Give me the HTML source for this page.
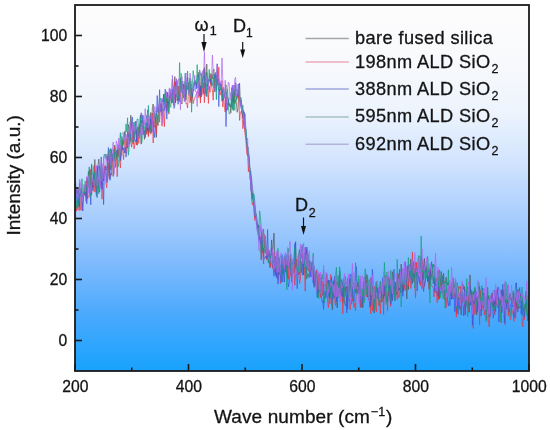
<!DOCTYPE html>
<html><head><meta charset="utf-8"><style>
html,body{margin:0;padding:0;background:#fff;width:550px;height:430px;overflow:hidden}
svg{display:block}
text{font-family:"Liberation Sans",Arial,sans-serif;fill:#141414;stroke:#141414;stroke-width:0.3px}
.tk{font-size:15.7px}
.lg{font-size:18.2px;letter-spacing:0.4px}
.sb{font-size:12.5px;letter-spacing:0}
</style></head><body>
<svg width="550" height="430" viewBox="0 0 550 430">
<defs>
<linearGradient id="bg" x1="0" y1="5" x2="0" y2="371" gradientUnits="userSpaceOnUse">
<stop offset="0" stop-color="#fdfdfd"/>
<stop offset="0.155" stop-color="#f8f9fc"/>
<stop offset="0.29" stop-color="#edf4fd"/>
<stop offset="0.429" stop-color="#d2e4fe"/>
<stop offset="0.566" stop-color="#abcffd"/>
<stop offset="0.702" stop-color="#80bbfd"/>
<stop offset="0.839" stop-color="#4daafd"/>
<stop offset="1" stop-color="#17a2fd"/>
</linearGradient>
<filter id="bl" x="-5%" y="-5%" width="110%" height="110%"><feGaussianBlur stdDeviation="0.5"/></filter>
<clipPath id="cp"><rect x="75" y="5" width="454" height="366"/></clipPath>
</defs>
<rect x="75" y="5" width="454" height="366" fill="url(#bg)"/>
<g clip-path="url(#cp)"><g fill="none" stroke-width="0.7" stroke-linejoin="round" filter="url(#bl)">
<path d="M74.0,199.0 74.8,201.7 75.6,196.1 76.4,189.9 77.2,193.2 78.0,187.7 78.8,196.6 79.6,207.4 80.4,190.3 81.2,188.5 82.0,197.9 82.8,196.1 83.6,193.2 84.4,194.9 85.2,190.7 86.0,196.6 86.8,177.6 87.6,185.0 88.4,171.4 89.2,176.2 90.0,170.4 90.8,184.1 91.6,174.0 92.4,187.0 93.2,185.2 94.0,181.3 94.8,159.5 95.6,176.6 96.4,180.2 97.2,180.8 98.0,165.2 98.8,159.1 99.6,168.6 100.4,169.3 101.2,185.3 102.0,167.7 102.8,173.9 103.6,181.0 104.4,166.6 105.2,169.6 106.0,170.4 106.8,168.7 107.6,155.9 108.4,166.4 109.2,176.7 110.0,149.3 110.8,169.8 111.6,161.9 112.4,153.8 113.2,176.4 114.0,164.0 114.8,145.1 115.6,155.4 116.4,158.6 117.2,150.5 118.0,157.1 118.8,149.3 119.6,154.8 120.4,160.6 121.2,140.5 122.0,147.3 122.8,140.2 123.6,144.4 124.4,131.5 125.2,135.8 126.0,136.6 126.8,146.9 127.6,148.0 128.4,124.7 129.2,128.3 130.0,140.2 130.8,115.3 131.6,128.7 132.4,131.8 133.2,143.8 134.0,138.5 134.8,129.1 135.6,128.5 136.4,129.4 137.2,145.2 138.0,127.4 138.8,128.3 139.6,134.0 140.4,129.6 141.2,128.7 142.0,120.2 142.8,129.9 143.6,125.6 144.4,139.4 145.2,134.2 146.0,127.5 146.8,133.2 147.6,123.5 148.4,135.4 149.2,125.3 150.0,130.0 150.8,112.5 151.6,132.4 152.4,107.8 153.2,104.0 154.0,119.0 154.8,113.1 155.6,120.8 156.4,137.3 157.2,107.4 158.0,107.0 158.8,112.2 159.6,112.6 160.4,105.0 161.2,103.9 162.0,111.3 162.8,108.9 163.6,94.1 164.4,101.9 165.2,102.1 166.0,91.5 166.8,102.9 167.6,92.3 168.4,108.3 169.2,100.8 170.0,99.4 170.8,92.8 171.6,96.6 172.4,79.2 173.2,86.5 174.0,99.5 174.8,76.6 175.6,102.9 176.4,79.0 177.2,101.0 178.0,86.1 178.8,100.1 179.6,93.8 180.4,78.2 181.2,102.8 182.0,104.0 182.8,90.3 183.6,88.2 184.4,89.1 185.2,81.6 186.0,100.2 186.8,85.2 187.6,89.5 188.4,82.7 189.2,84.1 190.0,78.0 190.8,100.7 191.6,87.9 192.4,97.8 193.2,89.0 194.0,82.0 194.8,84.7 195.6,82.0 196.4,86.5 197.2,82.5 198.0,82.6 198.8,72.2 199.6,76.8 200.4,98.3 201.2,76.8 202.0,72.8 202.8,84.7 203.6,93.7 204.4,67.4 205.2,87.2 206.0,74.3 206.8,64.2 207.6,86.6 208.4,79.8 209.2,80.6 210.0,73.2 210.8,84.1 211.6,75.1 212.4,78.7 213.2,70.0 214.0,69.1 214.8,92.0 215.6,75.4 216.4,83.2 217.2,81.4 218.0,78.9 218.8,79.4 219.6,90.8 220.4,83.6 221.2,86.1 222.0,88.8 222.8,100.3 223.6,97.6 224.4,96.8 225.2,90.2 226.0,84.8 226.8,107.7 227.6,109.7 228.4,100.3 229.2,105.7 230.0,107.0 230.8,106.7 231.6,106.7 232.4,93.5 233.2,110.5 234.0,85.1 234.8,103.6 235.6,99.7 236.4,103.0 237.2,112.3 238.0,109.0 238.8,85.6 239.6,83.2 240.4,105.6 241.2,100.1 242.0,109.4 242.8,118.1 243.6,110.8 244.4,113.7 245.2,131.0 246.0,136.7 246.8,142.1 247.6,150.5 248.4,153.1 249.2,157.2 250.0,171.2 250.8,174.7 251.6,178.6 252.4,195.1 253.2,198.2 254.0,206.3 254.8,205.3 255.6,212.7 256.4,216.7 257.2,222.4 258.0,230.7 258.8,225.6 259.6,238.8 260.4,241.6 261.2,259.7 262.0,231.1 262.8,253.0 263.6,245.5 264.4,247.5 265.2,236.0 266.0,246.2 266.8,258.4 267.6,252.3 268.4,255.1 269.2,253.1 270.0,267.4 270.8,258.1 271.6,239.9 272.4,254.8 273.2,244.4 274.0,233.2 274.8,258.1 275.6,275.3 276.4,264.1 277.2,253.5 278.0,256.0 278.8,275.1 279.6,266.7 280.4,266.1 281.2,265.6 282.0,266.8 282.8,274.1 283.6,272.3 284.4,269.6 285.2,258.6 286.0,272.3 286.8,261.4 287.6,277.2 288.4,255.7 289.2,265.7 290.0,266.6 290.8,254.6 291.6,281.8 292.4,279.2 293.2,261.7 294.0,272.6 294.8,268.9 295.6,241.7 296.4,267.3 297.2,264.0 298.0,264.9 298.8,254.0 299.6,249.6 300.4,261.2 301.2,273.0 302.0,264.9 302.8,261.4 303.6,274.9 304.4,257.0 305.2,259.3 306.0,247.3 306.8,278.7 307.6,274.1 308.4,274.5 309.2,277.5 310.0,269.0 310.8,270.8 311.6,267.4 312.4,268.7 313.2,272.4 314.0,287.3 314.8,285.9 315.6,276.7 316.4,270.1 317.2,275.1 318.0,297.0 318.8,288.9 319.6,286.7 320.4,283.9 321.2,277.2 322.0,286.7 322.8,295.3 323.6,284.0 324.4,285.6 325.2,285.8 326.0,288.9 326.8,273.7 327.6,286.1 328.4,280.6 329.2,296.4 330.0,281.6 330.8,293.9 331.6,302.5 332.4,309.9 333.2,283.6 334.0,290.9 334.8,289.3 335.6,280.6 336.4,293.8 337.2,307.9 338.0,287.6 338.8,288.3 339.6,280.9 340.4,293.3 341.2,279.4 342.0,280.8 342.8,302.4 343.6,282.9 344.4,300.9 345.2,305.1 346.0,305.8 346.8,296.4 347.6,308.9 348.4,289.4 349.2,285.8 350.0,278.8 350.8,291.3 351.6,304.1 352.4,299.3 353.2,282.1 354.0,282.8 354.8,285.9 355.6,292.9 356.4,288.4 357.2,292.0 358.0,292.7 358.8,287.5 359.6,290.0 360.4,292.4 361.2,290.0 362.0,295.5 362.8,307.9 363.6,296.6 364.4,292.0 365.2,276.5 366.0,295.3 366.8,274.5 367.6,279.5 368.4,300.1 369.2,298.9 370.0,307.5 370.8,277.6 371.6,289.6 372.4,286.7 373.2,298.5 374.0,313.0 374.8,294.5 375.6,285.5 376.4,281.8 377.2,291.8 378.0,290.6 378.8,293.3 379.6,293.1 380.4,281.6 381.2,301.8 382.0,301.3 382.8,301.4 383.6,287.3 384.4,295.9 385.2,289.7 386.0,287.0 386.8,287.0 387.6,278.0 388.4,276.3 389.2,296.0 390.0,286.8 390.8,290.0 391.6,296.7 392.4,271.7 393.2,279.8 394.0,288.1 394.8,289.6 395.6,282.3 396.4,294.6 397.2,286.7 398.0,273.2 398.8,275.0 399.6,289.9 400.4,286.1 401.2,264.1 402.0,292.6 402.8,285.2 403.6,291.2 404.4,274.9 405.2,275.0 406.0,266.8 406.8,299.0 407.6,274.1 408.4,289.6 409.2,269.1 410.0,276.0 410.8,259.1 411.6,270.3 412.4,282.2 413.2,261.6 414.0,282.2 414.8,275.1 415.6,262.3 416.4,266.8 417.2,269.8 418.0,270.3 418.8,265.7 419.6,262.9 420.4,267.4 421.2,260.9 422.0,259.0 422.8,270.7 423.6,279.6 424.4,258.4 425.2,272.7 426.0,267.3 426.8,264.9 427.6,281.9 428.4,270.0 429.2,288.7 430.0,268.7 430.8,279.7 431.6,274.7 432.4,270.6 433.2,283.6 434.0,277.8 434.8,285.5 435.6,280.5 436.4,278.0 437.2,281.7 438.0,284.0 438.8,299.2 439.6,277.1 440.4,285.8 441.2,271.5 442.0,293.7 442.8,279.0 443.6,273.3 444.4,289.5 445.2,300.4 446.0,277.2 446.8,281.6 447.6,285.1 448.4,282.1 449.2,296.1 450.0,285.9 450.8,287.1 451.6,299.3 452.4,287.7 453.2,298.9 454.0,286.7 454.8,285.0 455.6,279.6 456.4,313.1 457.2,293.7 458.0,299.0 458.8,296.8 459.6,298.7 460.4,297.9 461.2,314.9 462.0,288.6 462.8,284.1 463.6,289.2 464.4,286.6 465.2,305.5 466.0,306.4 466.8,290.6 467.6,287.0 468.4,296.6 469.2,312.5 470.0,274.9 470.8,305.3 471.6,291.1 472.4,310.4 473.2,291.6 474.0,299.0 474.8,288.3 475.6,293.3 476.4,314.8 477.2,310.0 478.0,299.2 478.8,295.3 479.6,286.3 480.4,299.9 481.2,303.1 482.0,302.5 482.8,302.4 483.6,293.0 484.4,297.4 485.2,302.6 486.0,314.5 486.8,319.6 487.6,301.5 488.4,295.7 489.2,301.9 490.0,297.0 490.8,295.7 491.6,301.7 492.4,292.8 493.2,307.5 494.0,301.1 494.8,304.3 495.6,300.4 496.4,295.5 497.2,293.5 498.0,299.9 498.8,297.1 499.6,304.1 500.4,302.0 501.2,289.7 502.0,302.6 502.8,289.9 503.6,296.5 504.4,299.4 505.2,283.3 506.0,302.8 506.8,303.4 507.6,300.6 508.4,298.3 509.2,298.9 510.0,293.6 510.8,300.2 511.6,297.8 512.4,303.8 513.2,292.3 514.0,305.4 514.8,304.7 515.6,297.7 516.4,299.8 517.2,308.9 518.0,289.2 518.8,308.5 519.6,306.7 520.4,307.2 521.2,308.3 522.0,299.1 522.8,302.7 523.6,310.7 524.4,308.9 525.2,306.9 526.0,291.4 526.8,309.8 527.6,315.5 528.4,314.1 529.2,307.1 530.0,291.0" stroke="#555555" /><path d="M74.0,198.6 74.8,195.9 75.6,205.0 76.4,211.2 77.2,204.4 78.0,210.1 78.8,201.2 79.6,210.5 80.4,210.0 81.2,197.2 82.0,210.5 82.8,198.4 83.6,197.0 84.4,187.3 85.2,192.4 86.0,201.4 86.8,181.9 87.6,198.9 88.4,195.6 89.2,194.3 90.0,169.0 90.8,189.3 91.6,195.2 92.4,181.7 93.2,188.6 94.0,165.6 94.8,192.2 95.6,179.4 96.4,192.4 97.2,167.2 98.0,189.2 98.8,180.1 99.6,188.7 100.4,172.3 101.2,174.2 102.0,199.2 102.8,170.7 103.6,176.9 104.4,173.4 105.2,165.4 106.0,184.1 106.8,187.7 107.6,164.6 108.4,154.2 109.2,179.0 110.0,177.2 110.8,173.4 111.6,175.2 112.4,155.8 113.2,160.8 114.0,148.7 114.8,147.1 115.6,167.5 116.4,151.4 117.2,176.7 118.0,149.0 118.8,148.1 119.6,160.0 120.4,167.9 121.2,154.9 122.0,138.5 122.8,151.7 123.6,159.6 124.4,141.7 125.2,138.1 126.0,153.1 126.8,144.1 127.6,131.8 128.4,137.2 129.2,132.7 130.0,141.1 130.8,138.3 131.6,147.2 132.4,143.0 133.2,122.4 134.0,148.9 134.8,144.1 135.6,140.0 136.4,144.9 137.2,130.5 138.0,126.7 138.8,143.4 139.6,125.3 140.4,115.2 141.2,143.7 142.0,127.7 142.8,131.3 143.6,121.0 144.4,121.0 145.2,121.9 146.0,128.5 146.8,134.5 147.6,109.9 148.4,136.7 149.2,118.7 150.0,119.2 150.8,134.3 151.6,126.9 152.4,113.1 153.2,143.0 154.0,118.0 154.8,127.4 155.6,125.1 156.4,133.8 157.2,114.7 158.0,125.7 158.8,107.7 159.6,122.2 160.4,103.7 161.2,106.5 162.0,126.1 162.8,111.1 163.6,108.4 164.4,126.8 165.2,109.1 166.0,97.7 166.8,111.1 167.6,93.4 168.4,113.7 169.2,113.9 170.0,97.4 170.8,96.5 171.6,103.2 172.4,101.3 173.2,91.9 174.0,105.3 174.8,81.3 175.6,95.3 176.4,95.1 177.2,95.7 178.0,100.4 178.8,86.1 179.6,101.9 180.4,94.4 181.2,89.7 182.0,82.7 182.8,84.2 183.6,98.0 184.4,85.9 185.2,95.0 186.0,103.8 186.8,103.4 187.6,108.0 188.4,91.2 189.2,83.9 190.0,102.7 190.8,96.2 191.6,103.4 192.4,93.2 193.2,103.6 194.0,99.9 194.8,98.1 195.6,95.6 196.4,94.0 197.2,91.9 198.0,91.3 198.8,97.6 199.6,83.4 200.4,103.1 201.2,85.9 202.0,95.1 202.8,84.8 203.6,82.8 204.4,102.7 205.2,81.2 206.0,72.5 206.8,77.6 207.6,81.1 208.4,103.4 209.2,85.9 210.0,92.4 210.8,75.0 211.6,87.2 212.4,90.0 213.2,100.2 214.0,77.7 214.8,89.4 215.6,86.7 216.4,75.4 217.2,85.5 218.0,84.5 218.8,67.1 219.6,94.5 220.4,95.1 221.2,87.5 222.0,80.5 222.8,107.0 223.6,95.1 224.4,106.5 225.2,112.0 226.0,96.5 226.8,110.4 227.6,102.9 228.4,105.0 229.2,104.0 230.0,104.0 230.8,113.2 231.6,103.5 232.4,100.2 233.2,98.4 234.0,103.4 234.8,91.7 235.6,94.7 236.4,98.7 237.2,94.3 238.0,98.6 238.8,94.9 239.6,120.4 240.4,112.2 241.2,111.3 242.0,113.2 242.8,128.7 243.6,124.5 244.4,127.7 245.2,135.2 246.0,142.0 246.8,154.3 247.6,154.2 248.4,171.7 249.2,164.3 250.0,179.5 250.8,178.5 251.6,199.7 252.4,205.0 253.2,202.2 254.0,212.9 254.8,220.4 255.6,214.4 256.4,224.0 257.2,223.8 258.0,234.4 258.8,235.7 259.6,236.5 260.4,236.4 261.2,242.0 262.0,240.9 262.8,253.8 263.6,264.0 264.4,234.3 265.2,252.0 266.0,250.6 266.8,260.1 267.6,248.4 268.4,257.0 269.2,250.3 270.0,267.3 270.8,263.2 271.6,262.2 272.4,268.3 273.2,263.9 274.0,252.5 274.8,272.3 275.6,269.9 276.4,266.3 277.2,277.0 278.0,279.5 278.8,259.1 279.6,262.3 280.4,283.6 281.2,282.9 282.0,263.9 282.8,260.3 283.6,265.6 284.4,267.2 285.2,257.7 286.0,272.0 286.8,260.0 287.6,260.4 288.4,279.4 289.2,264.8 290.0,270.1 290.8,276.1 291.6,277.6 292.4,267.0 293.2,270.3 294.0,262.2 294.8,285.2 295.6,275.1 296.4,259.1 297.2,268.6 298.0,274.6 298.8,272.0 299.6,283.7 300.4,279.1 301.2,261.5 302.0,265.1 302.8,253.9 303.6,267.4 304.4,267.3 305.2,291.2 306.0,268.6 306.8,249.7 307.6,263.4 308.4,271.3 309.2,259.8 310.0,264.2 310.8,269.6 311.6,276.8 312.4,273.1 313.2,267.9 314.0,284.8 314.8,274.6 315.6,276.7 316.4,270.6 317.2,277.7 318.0,292.4 318.8,273.8 319.6,289.5 320.4,297.5 321.2,287.8 322.0,293.5 322.8,281.4 323.6,303.3 324.4,301.6 325.2,294.2 326.0,276.1 326.8,282.6 327.6,301.0 328.4,307.7 329.2,295.1 330.0,303.8 330.8,274.5 331.6,291.1 332.4,292.9 333.2,296.8 334.0,279.4 334.8,301.8 335.6,305.4 336.4,283.3 337.2,281.6 338.0,297.1 338.8,286.6 339.6,272.9 340.4,301.7 341.2,296.0 342.0,290.4 342.8,313.9 343.6,296.3 344.4,288.4 345.2,296.3 346.0,286.1 346.8,288.5 347.6,298.8 348.4,290.2 349.2,291.0 350.0,310.0 350.8,302.6 351.6,302.0 352.4,299.5 353.2,299.0 354.0,307.6 354.8,302.8 355.6,311.0 356.4,285.6 357.2,291.8 358.0,281.6 358.8,291.1 359.6,299.0 360.4,307.6 361.2,288.8 362.0,295.0 362.8,291.9 363.6,288.6 364.4,284.8 365.2,296.2 366.0,280.3 366.8,297.0 367.6,296.4 368.4,290.5 369.2,287.5 370.0,284.3 370.8,313.8 371.6,284.9 372.4,310.9 373.2,302.1 374.0,293.4 374.8,286.1 375.6,305.9 376.4,311.9 377.2,287.9 378.0,293.5 378.8,305.6 379.6,299.0 380.4,313.9 381.2,290.7 382.0,300.6 382.8,284.4 383.6,314.4 384.4,288.7 385.2,275.0 386.0,293.4 386.8,292.8 387.6,310.9 388.4,290.3 389.2,292.8 390.0,297.8 390.8,306.4 391.6,291.1 392.4,300.7 393.2,295.6 394.0,287.8 394.8,290.8 395.6,290.0 396.4,281.1 397.2,299.7 398.0,275.6 398.8,297.9 399.6,295.2 400.4,285.1 401.2,278.3 402.0,282.5 402.8,288.0 403.6,289.7 404.4,284.9 405.2,290.5 406.0,275.9 406.8,282.3 407.6,265.6 408.4,286.2 409.2,280.3 410.0,274.8 410.8,288.6 411.6,283.9 412.4,252.0 413.2,277.3 414.0,263.4 414.8,285.7 415.6,298.1 416.4,262.2 417.2,275.6 418.0,272.5 418.8,277.7 419.6,280.2 420.4,285.7 421.2,265.2 422.0,288.8 422.8,260.3 423.6,278.1 424.4,286.6 425.2,283.1 426.0,268.7 426.8,271.4 427.6,274.0 428.4,278.2 429.2,289.5 430.0,268.1 430.8,284.4 431.6,286.2 432.4,286.5 433.2,286.5 434.0,296.8 434.8,288.4 435.6,292.6 436.4,290.9 437.2,302.8 438.0,270.4 438.8,299.9 439.6,286.9 440.4,287.6 441.2,282.3 442.0,275.1 442.8,289.3 443.6,287.4 444.4,298.5 445.2,281.2 446.0,307.8 446.8,297.8 447.6,293.6 448.4,289.9 449.2,289.6 450.0,287.0 450.8,292.7 451.6,298.1 452.4,296.9 453.2,277.6 454.0,297.0 454.8,291.8 455.6,301.6 456.4,317.2 457.2,306.2 458.0,298.0 458.8,286.4 459.6,288.4 460.4,286.3 461.2,308.2 462.0,295.0 462.8,302.7 463.6,296.7 464.4,303.4 465.2,315.4 466.0,296.8 466.8,300.2 467.6,296.3 468.4,311.6 469.2,294.8 470.0,294.1 470.8,292.1 471.6,292.1 472.4,309.3 473.2,328.4 474.0,296.6 474.8,314.4 475.6,308.3 476.4,296.4 477.2,304.1 478.0,304.8 478.8,300.9 479.6,324.7 480.4,290.3 481.2,310.8 482.0,310.3 482.8,302.0 483.6,308.5 484.4,314.9 485.2,308.3 486.0,310.6 486.8,313.0 487.6,288.4 488.4,319.9 489.2,327.0 490.0,315.3 490.8,315.5 491.6,293.6 492.4,305.1 493.2,298.8 494.0,300.7 494.8,314.7 495.6,298.8 496.4,304.8 497.2,288.8 498.0,304.6 498.8,306.8 499.6,299.7 500.4,299.5 501.2,323.0 502.0,295.1 502.8,296.5 503.6,298.7 504.4,316.8 505.2,324.9 506.0,309.0 506.8,299.5 507.6,302.2 508.4,315.7 509.2,298.1 510.0,319.5 510.8,319.3 511.6,307.4 512.4,312.8 513.2,313.9 514.0,321.3 514.8,298.0 515.6,318.3 516.4,304.4 517.2,301.1 518.0,309.1 518.8,306.4 519.6,299.6 520.4,294.3 521.2,300.3 522.0,322.1 522.8,326.7 523.6,314.9 524.4,319.7 525.2,304.3 526.0,308.3 526.8,311.5 527.6,299.3 528.4,300.1 529.2,309.9 530.0,306.1" stroke="#f0303c" /><path d="M74.0,201.0 74.8,195.2 75.6,183.3 76.4,195.9 77.2,204.2 78.0,190.0 78.8,205.5 79.6,193.1 80.4,195.8 81.2,191.7 82.0,197.6 82.8,211.0 83.6,196.5 84.4,194.4 85.2,186.4 86.0,184.6 86.8,203.9 87.6,180.1 88.4,181.3 89.2,187.9 90.0,184.2 90.8,204.8 91.6,165.1 92.4,188.9 93.2,191.2 94.0,173.9 94.8,177.4 95.6,186.3 96.4,196.3 97.2,172.5 98.0,165.8 98.8,188.0 99.6,192.1 100.4,185.6 101.2,156.9 102.0,189.1 102.8,173.4 103.6,204.6 104.4,172.5 105.2,168.2 106.0,166.3 106.8,182.4 107.6,180.9 108.4,147.5 109.2,157.1 110.0,180.3 110.8,174.9 111.6,149.6 112.4,160.6 113.2,158.4 114.0,157.3 114.8,152.6 115.6,152.9 116.4,150.4 117.2,156.2 118.0,144.7 118.8,148.3 119.6,148.5 120.4,160.4 121.2,150.9 122.0,145.5 122.8,150.2 123.6,147.9 124.4,152.9 125.2,146.6 126.0,157.1 126.8,151.9 127.6,138.3 128.4,133.9 129.2,144.4 130.0,140.0 130.8,133.4 131.6,120.6 132.4,117.2 133.2,136.6 134.0,140.2 134.8,140.3 135.6,121.3 136.4,142.0 137.2,127.6 138.0,135.7 138.8,135.8 139.6,124.6 140.4,126.3 141.2,112.8 142.0,123.0 142.8,114.8 143.6,134.5 144.4,130.5 145.2,137.6 146.0,129.4 146.8,122.4 147.6,130.7 148.4,123.4 149.2,131.8 150.0,128.6 150.8,116.3 151.6,124.6 152.4,124.4 153.2,120.6 154.0,130.8 154.8,137.6 155.6,117.0 156.4,114.9 157.2,95.6 158.0,112.4 158.8,107.4 159.6,89.7 160.4,110.2 161.2,112.1 162.0,99.4 162.8,101.8 163.6,95.7 164.4,110.5 165.2,89.1 166.0,99.2 166.8,119.1 167.6,101.5 168.4,104.8 169.2,98.8 170.0,89.0 170.8,98.8 171.6,102.3 172.4,89.0 173.2,100.8 174.0,108.4 174.8,106.3 175.6,82.0 176.4,87.0 177.2,80.7 178.0,104.3 178.8,99.6 179.6,92.3 180.4,85.2 181.2,82.0 182.0,92.7 182.8,92.8 183.6,84.0 184.4,92.8 185.2,97.2 186.0,93.3 186.8,81.8 187.6,77.2 188.4,88.5 189.2,92.2 190.0,88.2 190.8,86.5 191.6,84.0 192.4,96.5 193.2,89.4 194.0,90.4 194.8,79.9 195.6,82.5 196.4,88.9 197.2,77.8 198.0,74.9 198.8,78.4 199.6,95.9 200.4,86.2 201.2,97.0 202.0,82.1 202.8,79.9 203.6,69.5 204.4,76.3 205.2,93.9 206.0,83.9 206.8,96.7 207.6,87.3 208.4,80.9 209.2,79.2 210.0,82.1 210.8,79.8 211.6,85.1 212.4,85.4 213.2,82.4 214.0,74.1 214.8,78.6 215.6,72.5 216.4,90.6 217.2,63.8 218.0,81.9 218.8,106.5 219.6,83.1 220.4,83.2 221.2,88.3 222.0,101.2 222.8,89.3 223.6,98.0 224.4,95.3 225.2,92.9 226.0,126.6 226.8,100.8 227.6,97.2 228.4,98.2 229.2,105.2 230.0,104.7 230.8,107.1 231.6,100.7 232.4,85.7 233.2,102.7 234.0,94.6 234.8,94.2 235.6,82.9 236.4,91.0 237.2,89.9 238.0,96.3 238.8,83.9 239.6,99.9 240.4,103.2 241.2,100.6 242.0,107.4 242.8,110.7 243.6,124.4 244.4,112.6 245.2,129.0 246.0,129.3 246.8,142.2 247.6,155.5 248.4,155.2 249.2,166.3 250.0,168.9 250.8,190.1 251.6,192.3 252.4,199.2 253.2,192.9 254.0,199.9 254.8,216.5 255.6,216.0 256.4,219.2 257.2,229.4 258.0,224.5 258.8,240.6 259.6,236.8 260.4,243.9 261.2,236.5 262.0,249.3 262.8,239.7 263.6,255.9 264.4,258.8 265.2,258.2 266.0,256.0 266.8,258.4 267.6,229.6 268.4,262.8 269.2,254.2 270.0,258.9 270.8,256.8 271.6,248.1 272.4,257.2 273.2,269.0 274.0,276.3 274.8,258.3 275.6,256.2 276.4,277.8 277.2,257.2 278.0,284.2 278.8,266.4 279.6,258.3 280.4,275.6 281.2,282.3 282.0,254.6 282.8,281.9 283.6,265.8 284.4,282.1 285.2,265.5 286.0,254.5 286.8,273.0 287.6,276.7 288.4,287.0 289.2,283.4 290.0,274.0 290.8,265.3 291.6,262.6 292.4,264.4 293.2,259.4 294.0,264.2 294.8,243.5 295.6,267.8 296.4,265.8 297.2,288.7 298.0,272.0 298.8,260.4 299.6,269.3 300.4,252.7 301.2,257.9 302.0,246.0 302.8,275.3 303.6,267.4 304.4,252.4 305.2,263.3 306.0,273.2 306.8,247.1 307.6,269.8 308.4,259.5 309.2,262.4 310.0,269.8 310.8,277.0 311.6,263.2 312.4,261.5 313.2,283.2 314.0,266.3 314.8,286.1 315.6,280.4 316.4,287.9 317.2,297.5 318.0,289.8 318.8,292.3 319.6,278.9 320.4,281.8 321.2,294.0 322.0,302.1 322.8,301.0 323.6,309.4 324.4,291.5 325.2,290.6 326.0,298.0 326.8,289.2 327.6,288.6 328.4,279.9 329.2,298.3 330.0,279.9 330.8,294.3 331.6,277.0 332.4,299.8 333.2,280.8 334.0,297.8 334.8,276.0 335.6,286.5 336.4,301.3 337.2,283.6 338.0,291.6 338.8,286.8 339.6,270.5 340.4,294.2 341.2,295.5 342.0,281.8 342.8,297.0 343.6,284.9 344.4,283.2 345.2,290.9 346.0,286.4 346.8,313.0 347.6,278.3 348.4,298.8 349.2,301.0 350.0,274.2 350.8,276.3 351.6,296.9 352.4,287.4 353.2,295.1 354.0,301.8 354.8,288.1 355.6,281.7 356.4,266.6 357.2,292.9 358.0,282.6 358.8,294.0 359.6,293.5 360.4,279.1 361.2,307.3 362.0,301.7 362.8,297.0 363.6,281.6 364.4,288.8 365.2,287.7 366.0,289.1 366.8,282.9 367.6,297.1 368.4,295.5 369.2,296.9 370.0,289.2 370.8,305.6 371.6,295.6 372.4,269.2 373.2,288.0 374.0,293.1 374.8,302.2 375.6,290.8 376.4,291.1 377.2,287.3 378.0,299.2 378.8,289.1 379.6,287.6 380.4,286.2 381.2,297.8 382.0,287.9 382.8,277.6 383.6,298.2 384.4,286.0 385.2,295.1 386.0,294.9 386.8,301.9 387.6,300.1 388.4,285.1 389.2,288.4 390.0,277.9 390.8,304.2 391.6,292.7 392.4,300.8 393.2,285.0 394.0,269.1 394.8,300.9 395.6,287.5 396.4,287.5 397.2,286.3 398.0,290.9 398.8,289.2 399.6,269.3 400.4,292.7 401.2,277.5 402.0,277.3 402.8,296.3 403.6,288.3 404.4,276.3 405.2,261.9 406.0,279.4 406.8,282.0 407.6,276.0 408.4,265.1 409.2,268.8 410.0,264.2 410.8,277.0 411.6,282.1 412.4,283.5 413.2,267.3 414.0,275.6 414.8,278.1 415.6,268.1 416.4,271.0 417.2,291.1 418.0,273.6 418.8,279.5 419.6,283.5 420.4,271.5 421.2,255.7 422.0,271.4 422.8,282.9 423.6,291.5 424.4,283.9 425.2,279.9 426.0,274.7 426.8,269.3 427.6,273.8 428.4,281.2 429.2,269.2 430.0,285.1 430.8,268.4 431.6,261.7 432.4,269.3 433.2,264.3 434.0,267.8 434.8,291.2 435.6,280.1 436.4,284.7 437.2,294.1 438.0,295.9 438.8,280.8 439.6,298.2 440.4,290.6 441.2,288.0 442.0,292.8 442.8,276.9 443.6,283.5 444.4,290.0 445.2,296.9 446.0,288.6 446.8,291.2 447.6,301.5 448.4,306.0 449.2,300.6 450.0,305.6 450.8,291.0 451.6,292.3 452.4,298.4 453.2,293.3 454.0,291.9 454.8,311.8 455.6,295.4 456.4,288.7 457.2,302.0 458.0,314.3 458.8,298.8 459.6,309.3 460.4,294.5 461.2,292.5 462.0,292.7 462.8,297.8 463.6,315.9 464.4,289.2 465.2,314.5 466.0,290.9 466.8,298.2 467.6,308.0 468.4,306.4 469.2,303.6 470.0,286.4 470.8,304.8 471.6,292.6 472.4,325.2 473.2,300.4 474.0,304.3 474.8,292.5 475.6,298.8 476.4,291.7 477.2,312.4 478.0,301.5 478.8,309.2 479.6,298.2 480.4,299.9 481.2,316.0 482.0,295.5 482.8,288.0 483.6,307.8 484.4,293.8 485.2,300.0 486.0,312.1 486.8,296.4 487.6,311.6 488.4,297.5 489.2,316.9 490.0,315.4 490.8,299.1 491.6,301.3 492.4,296.7 493.2,318.1 494.0,313.3 494.8,290.0 495.6,311.3 496.4,291.1 497.2,295.3 498.0,286.9 498.8,321.9 499.6,303.5 500.4,305.2 501.2,296.9 502.0,312.6 502.8,284.1 503.6,303.2 504.4,322.9 505.2,299.6 506.0,303.2 506.8,309.1 507.6,295.7 508.4,303.3 509.2,311.9 510.0,305.2 510.8,306.9 511.6,300.6 512.4,306.8 513.2,304.6 514.0,317.4 514.8,311.0 515.6,302.4 516.4,282.8 517.2,311.4 518.0,311.9 518.8,297.1 519.6,287.5 520.4,295.4 521.2,314.2 522.0,296.4 522.8,315.4 523.6,308.0 524.4,317.0 525.2,305.8 526.0,305.1 526.8,301.1 527.6,320.7 528.4,315.6 529.2,305.1 530.0,293.4" stroke="#3a55e0" /><path d="M74.0,201.7 74.8,198.0 75.6,198.6 76.4,208.4 77.2,199.7 78.0,206.9 78.8,199.9 79.6,182.8 80.4,195.3 81.2,196.7 82.0,178.7 82.8,203.0 83.6,191.0 84.4,193.1 85.2,181.1 86.0,189.2 86.8,190.6 87.6,184.3 88.4,187.4 89.2,166.9 90.0,197.4 90.8,174.3 91.6,163.9 92.4,174.1 93.2,174.5 94.0,186.1 94.8,172.1 95.6,182.1 96.4,170.1 97.2,197.8 98.0,182.1 98.8,194.0 99.6,166.4 100.4,180.7 101.2,165.4 102.0,178.4 102.8,178.5 103.6,156.9 104.4,154.1 105.2,158.3 106.0,154.0 106.8,159.7 107.6,156.5 108.4,150.9 109.2,163.5 110.0,166.3 110.8,148.3 111.6,153.9 112.4,157.8 113.2,154.4 114.0,149.0 114.8,161.3 115.6,160.4 116.4,157.7 117.2,148.5 118.0,167.0 118.8,163.7 119.6,143.3 120.4,132.6 121.2,155.4 122.0,136.4 122.8,146.0 123.6,141.8 124.4,133.9 125.2,137.0 126.0,123.9 126.8,132.0 127.6,117.8 128.4,155.2 129.2,147.1 130.0,143.5 130.8,134.1 131.6,139.9 132.4,142.2 133.2,139.7 134.0,138.6 134.8,121.9 135.6,133.8 136.4,124.9 137.2,118.9 138.0,119.0 138.8,133.0 139.6,138.4 140.4,116.4 141.2,144.2 142.0,141.5 142.8,124.7 143.6,123.4 144.4,126.3 145.2,135.2 146.0,122.3 146.8,115.2 147.6,127.7 148.4,105.4 149.2,124.6 150.0,133.2 150.8,124.9 151.6,128.6 152.4,125.4 153.2,126.9 154.0,121.1 154.8,111.7 155.6,115.3 156.4,114.4 157.2,124.2 158.0,125.2 158.8,112.1 159.6,99.3 160.4,98.0 161.2,102.1 162.0,115.5 162.8,105.2 163.6,100.9 164.4,93.7 165.2,107.7 166.0,101.6 166.8,98.1 167.6,99.0 168.4,112.7 169.2,95.6 170.0,105.6 170.8,107.3 171.6,96.1 172.4,103.1 173.2,93.6 174.0,86.7 174.8,91.3 175.6,85.1 176.4,97.3 177.2,92.3 178.0,96.8 178.8,98.6 179.6,62.5 180.4,92.9 181.2,73.3 182.0,90.5 182.8,81.0 183.6,89.6 184.4,100.9 185.2,73.0 186.0,90.0 186.8,87.4 187.6,71.0 188.4,93.7 189.2,88.0 190.0,83.0 190.8,80.9 191.6,112.2 192.4,83.6 193.2,70.6 194.0,77.9 194.8,82.4 195.6,81.6 196.4,83.7 197.2,64.6 198.0,88.1 198.8,78.3 199.6,69.8 200.4,74.1 201.2,77.4 202.0,87.9 202.8,84.0 203.6,76.0 204.4,78.6 205.2,79.9 206.0,96.3 206.8,72.4 207.6,82.2 208.4,84.5 209.2,69.4 210.0,79.7 210.8,79.5 211.6,73.8 212.4,83.1 213.2,87.3 214.0,88.2 214.8,76.3 215.6,79.7 216.4,99.7 217.2,69.8 218.0,82.9 218.8,90.0 219.6,84.5 220.4,90.2 221.2,87.0 222.0,93.4 222.8,99.3 223.6,87.4 224.4,93.1 225.2,92.8 226.0,91.6 226.8,96.9 227.6,88.9 228.4,106.3 229.2,114.1 230.0,113.3 230.8,108.7 231.6,87.7 232.4,109.3 233.2,88.4 234.0,93.9 234.8,110.4 235.6,83.6 236.4,100.7 237.2,95.9 238.0,92.3 238.8,86.0 239.6,100.2 240.4,97.3 241.2,108.3 242.0,113.6 242.8,105.1 243.6,114.4 244.4,120.5 245.2,121.9 246.0,129.0 246.8,141.7 247.6,147.3 248.4,147.2 249.2,160.0 250.0,172.6 250.8,171.5 251.6,180.2 252.4,198.5 253.2,203.0 254.0,194.3 254.8,201.5 255.6,215.8 256.4,213.8 257.2,223.5 258.0,225.5 258.8,235.7 259.6,210.9 260.4,216.7 261.2,228.5 262.0,250.8 262.8,241.6 263.6,229.0 264.4,250.1 265.2,253.4 266.0,246.1 266.8,246.7 267.6,254.9 268.4,263.2 269.2,255.0 270.0,259.8 270.8,255.9 271.6,254.2 272.4,250.8 273.2,262.4 274.0,257.8 274.8,258.7 275.6,269.7 276.4,266.1 277.2,269.9 278.0,248.3 278.8,267.9 279.6,258.0 280.4,256.4 281.2,256.4 282.0,275.4 282.8,272.4 283.6,258.8 284.4,255.5 285.2,266.1 286.0,261.6 286.8,289.8 287.6,252.2 288.4,248.6 289.2,262.6 290.0,264.8 290.8,265.7 291.6,271.1 292.4,282.7 293.2,260.8 294.0,258.8 294.8,247.6 295.6,265.4 296.4,270.7 297.2,260.3 298.0,272.8 298.8,262.0 299.6,274.9 300.4,263.8 301.2,250.8 302.0,254.1 302.8,245.6 303.6,243.5 304.4,262.4 305.2,268.7 306.0,279.3 306.8,262.1 307.6,261.3 308.4,254.3 309.2,274.0 310.0,269.5 310.8,261.5 311.6,273.9 312.4,273.6 313.2,253.1 314.0,278.4 314.8,274.7 315.6,271.7 316.4,273.2 317.2,294.5 318.0,294.4 318.8,298.8 319.6,273.8 320.4,279.2 321.2,293.3 322.0,274.4 322.8,278.9 323.6,269.3 324.4,302.4 325.2,295.4 326.0,290.0 326.8,288.0 327.6,282.4 328.4,282.7 329.2,292.0 330.0,280.1 330.8,297.7 331.6,282.4 332.4,282.4 333.2,298.7 334.0,285.9 334.8,292.3 335.6,283.8 336.4,267.4 337.2,292.7 338.0,275.8 338.8,297.9 339.6,266.9 340.4,271.6 341.2,291.3 342.0,292.6 342.8,289.8 343.6,278.1 344.4,297.2 345.2,276.2 346.0,285.3 346.8,282.3 347.6,285.9 348.4,296.9 349.2,283.4 350.0,294.1 350.8,295.1 351.6,273.4 352.4,278.2 353.2,285.1 354.0,283.2 354.8,291.2 355.6,262.7 356.4,294.7 357.2,294.8 358.0,286.5 358.8,275.7 359.6,288.4 360.4,283.7 361.2,293.8 362.0,288.2 362.8,295.7 363.6,285.4 364.4,302.5 365.2,268.9 366.0,280.7 366.8,294.4 367.6,276.6 368.4,297.0 369.2,279.6 370.0,291.6 370.8,282.7 371.6,287.0 372.4,292.4 373.2,289.8 374.0,287.2 374.8,309.9 375.6,290.5 376.4,281.6 377.2,298.6 378.0,297.6 378.8,301.1 379.6,306.1 380.4,281.5 381.2,299.4 382.0,300.0 382.8,289.6 383.6,291.8 384.4,262.3 385.2,283.7 386.0,304.6 386.8,272.0 387.6,282.9 388.4,289.9 389.2,292.1 390.0,301.2 390.8,270.2 391.6,286.1 392.4,293.0 393.2,273.1 394.0,284.1 394.8,301.1 395.6,295.5 396.4,288.2 397.2,259.3 398.0,280.9 398.8,284.9 399.6,277.9 400.4,279.4 401.2,307.0 402.0,276.6 402.8,269.1 403.6,279.2 404.4,273.5 405.2,272.8 406.0,274.1 406.8,281.1 407.6,275.8 408.4,257.5 409.2,271.7 410.0,276.8 410.8,267.9 411.6,282.0 412.4,278.3 413.2,262.0 414.0,273.4 414.8,288.0 415.6,283.7 416.4,268.8 417.2,277.0 418.0,262.7 418.8,255.5 419.6,273.3 420.4,270.4 421.2,236.0 422.0,268.4 422.8,272.1 423.6,265.0 424.4,274.4 425.2,278.2 426.0,270.7 426.8,279.0 427.6,256.3 428.4,265.6 429.2,286.2 430.0,302.9 430.8,276.5 431.6,273.8 432.4,264.0 433.2,279.6 434.0,284.2 434.8,264.7 435.6,283.9 436.4,284.2 437.2,284.6 438.0,271.4 438.8,287.3 439.6,269.8 440.4,297.5 441.2,286.2 442.0,275.4 442.8,298.8 443.6,297.9 444.4,282.2 445.2,308.3 446.0,279.9 446.8,292.2 447.6,300.5 448.4,269.8 449.2,299.7 450.0,290.6 450.8,291.5 451.6,282.4 452.4,295.5 453.2,283.0 454.0,284.7 454.8,289.9 455.6,283.1 456.4,308.5 457.2,282.6 458.0,288.0 458.8,292.2 459.6,295.3 460.4,302.6 461.2,303.1 462.0,293.2 462.8,292.7 463.6,296.7 464.4,304.0 465.2,303.1 466.0,292.4 466.8,278.7 467.6,316.8 468.4,306.3 469.2,300.4 470.0,301.3 470.8,293.8 471.6,289.8 472.4,296.1 473.2,297.3 474.0,293.9 474.8,286.7 475.6,297.3 476.4,305.5 477.2,296.1 478.0,301.1 478.8,282.5 479.6,299.5 480.4,301.5 481.2,290.3 482.0,285.7 482.8,304.9 483.6,295.5 484.4,305.4 485.2,297.2 486.0,321.6 486.8,297.7 487.6,287.1 488.4,299.8 489.2,297.6 490.0,306.3 490.8,296.3 491.6,296.7 492.4,307.9 493.2,310.6 494.0,306.8 494.8,309.3 495.6,304.1 496.4,306.9 497.2,307.9 498.0,303.6 498.8,300.6 499.6,301.3 500.4,321.6 501.2,300.1 502.0,297.9 502.8,296.7 503.6,299.7 504.4,302.2 505.2,289.8 506.0,282.2 506.8,302.7 507.6,285.5 508.4,302.4 509.2,301.5 510.0,310.8 510.8,315.6 511.6,304.1 512.4,296.0 513.2,290.5 514.0,294.2 514.8,301.8 515.6,283.0 516.4,302.5 517.2,301.9 518.0,307.9 518.8,299.3 519.6,303.4 520.4,296.0 521.2,298.7 522.0,287.0 522.8,304.1 523.6,316.9 524.4,304.5 525.2,306.3 526.0,294.2 526.8,315.9 527.6,296.1 528.4,310.2 529.2,304.0 530.0,294.4" stroke="#12a07a" /><path d="M74.0,212.4 74.8,186.2 75.6,195.2 76.4,191.2 77.2,187.2 78.0,196.9 78.8,197.6 79.6,179.4 80.4,182.2 81.2,201.5 82.0,193.0 82.8,202.4 83.6,184.5 84.4,184.9 85.2,191.8 86.0,182.6 86.8,176.5 87.6,185.8 88.4,193.2 89.2,175.3 90.0,193.1 90.8,189.2 91.6,174.4 92.4,181.4 93.2,180.1 94.0,185.3 94.8,184.8 95.6,175.6 96.4,165.3 97.2,185.7 98.0,176.7 98.8,178.6 99.6,188.2 100.4,186.9 101.2,161.7 102.0,181.4 102.8,163.6 103.6,176.3 104.4,180.5 105.2,155.0 106.0,154.1 106.8,162.4 107.6,161.1 108.4,162.8 109.2,151.8 110.0,151.4 110.8,164.6 111.6,165.0 112.4,151.2 113.2,142.1 114.0,174.4 114.8,162.4 115.6,154.6 116.4,141.0 117.2,143.7 118.0,149.9 118.8,138.0 119.6,159.7 120.4,145.6 121.2,146.8 122.0,133.0 122.8,133.0 123.6,132.9 124.4,141.3 125.2,135.4 126.0,134.0 126.8,138.3 127.6,136.4 128.4,146.5 129.2,130.4 130.0,122.1 130.8,129.9 131.6,142.5 132.4,124.4 133.2,129.6 134.0,125.8 134.8,132.3 135.6,130.8 136.4,121.2 137.2,126.1 138.0,136.3 138.8,137.5 139.6,135.7 140.4,135.0 141.2,124.2 142.0,123.7 142.8,135.0 143.6,115.9 144.4,125.1 145.2,108.6 146.0,121.1 146.8,117.6 147.6,112.6 148.4,127.8 149.2,115.5 150.0,118.2 150.8,118.6 151.6,113.7 152.4,132.2 153.2,114.7 154.0,120.2 154.8,106.3 155.6,111.8 156.4,110.9 157.2,108.8 158.0,104.1 158.8,108.3 159.6,118.6 160.4,102.1 161.2,101.3 162.0,98.3 162.8,123.3 163.6,114.4 164.4,104.2 165.2,104.7 166.0,91.4 166.8,95.9 167.6,98.6 168.4,97.3 169.2,88.2 170.0,88.4 170.8,99.4 171.6,97.1 172.4,75.3 173.2,94.2 174.0,104.1 174.8,86.7 175.6,94.1 176.4,78.6 177.2,98.3 178.0,80.5 178.8,78.8 179.6,86.5 180.4,109.7 181.2,82.9 182.0,76.6 182.8,91.7 183.6,89.5 184.4,101.9 185.2,75.9 186.0,72.9 186.8,84.1 187.6,90.0 188.4,89.7 189.2,96.0 190.0,73.1 190.8,78.8 191.6,84.8 192.4,93.2 193.2,89.8 194.0,81.3 194.8,75.4 195.6,91.6 196.4,91.6 197.2,106.5 198.0,80.4 198.8,95.7 199.6,70.1 200.4,75.4 201.2,73.6 202.0,74.9 202.8,70.7 203.6,75.3 204.4,52.0 205.2,72.8 206.0,82.6 206.8,76.0 207.6,76.7 208.4,89.7 209.2,79.5 210.0,78.1 210.8,76.6 211.6,77.3 212.4,55.0 213.2,69.7 214.0,86.8 214.8,90.6 215.6,86.9 216.4,73.0 217.2,64.4 218.0,75.7 218.8,82.1 219.6,89.2 220.4,81.4 221.2,81.5 222.0,58.0 222.8,80.5 223.6,97.6 224.4,98.1 225.2,80.3 226.0,96.4 226.8,109.1 227.6,89.4 228.4,82.0 229.2,83.7 230.0,100.4 230.8,92.5 231.6,97.5 232.4,85.0 233.2,90.8 234.0,90.7 234.8,78.9 235.6,77.3 236.4,95.8 237.2,93.4 238.0,84.2 238.8,91.8 239.6,101.0 240.4,107.3 241.2,97.7 242.0,109.3 242.8,109.5 243.6,116.1 244.4,128.1 245.2,114.0 246.0,140.4 246.8,140.1 247.6,138.0 248.4,158.0 249.2,166.6 250.0,174.8 250.8,182.2 251.6,183.4 252.4,185.8 253.2,193.1 254.0,201.0 254.8,209.0 255.6,210.4 256.4,218.8 257.2,231.6 258.0,228.1 258.8,249.6 259.6,251.4 260.4,225.2 261.2,233.2 262.0,228.8 262.8,231.5 263.6,247.9 264.4,235.6 265.2,236.5 266.0,244.7 266.8,255.5 267.6,246.6 268.4,247.9 269.2,260.5 270.0,257.9 270.8,259.1 271.6,264.8 272.4,248.8 273.2,260.7 274.0,253.6 274.8,268.7 275.6,267.2 276.4,251.2 277.2,272.7 278.0,250.9 278.8,272.0 279.6,263.9 280.4,254.7 281.2,252.9 282.0,260.5 282.8,263.4 283.6,257.7 284.4,269.4 285.2,252.4 286.0,264.4 286.8,264.3 287.6,247.5 288.4,266.6 289.2,252.5 290.0,241.3 290.8,257.8 291.6,261.0 292.4,290.0 293.2,258.3 294.0,275.4 294.8,274.9 295.6,271.6 296.4,273.5 297.2,264.4 298.0,255.9 298.8,266.2 299.6,268.5 300.4,244.0 301.2,256.9 302.0,244.7 302.8,264.1 303.6,261.0 304.4,247.2 305.2,260.4 306.0,266.8 306.8,254.4 307.6,269.1 308.4,269.7 309.2,250.8 310.0,262.0 310.8,269.9 311.6,274.6 312.4,279.8 313.2,255.7 314.0,269.8 314.8,278.5 315.6,284.8 316.4,290.7 317.2,269.2 318.0,276.0 318.8,271.7 319.6,290.1 320.4,272.0 321.2,294.4 322.0,292.4 322.8,288.5 323.6,265.0 324.4,278.4 325.2,291.2 326.0,272.1 326.8,282.6 327.6,284.0 328.4,292.9 329.2,287.7 330.0,287.7 330.8,281.5 331.6,285.6 332.4,284.4 333.2,292.2 334.0,284.3 334.8,295.3 335.6,271.1 336.4,297.0 337.2,285.0 338.0,296.7 338.8,287.6 339.6,294.6 340.4,300.4 341.2,282.4 342.0,288.2 342.8,286.1 343.6,284.1 344.4,273.5 345.2,286.5 346.0,286.0 346.8,281.1 347.6,286.3 348.4,274.2 349.2,300.2 350.0,291.7 350.8,304.4 351.6,279.7 352.4,263.4 353.2,289.8 354.0,272.4 354.8,289.1 355.6,280.8 356.4,283.9 357.2,289.1 358.0,287.1 358.8,303.4 359.6,292.7 360.4,275.8 361.2,296.1 362.0,275.7 362.8,288.6 363.6,276.9 364.4,280.8 365.2,300.0 366.0,283.6 366.8,283.0 367.6,283.9 368.4,286.3 369.2,302.1 370.0,279.0 370.8,278.6 371.6,294.8 372.4,275.3 373.2,286.2 374.0,299.4 374.8,289.2 375.6,284.9 376.4,282.7 377.2,280.8 378.0,286.1 378.8,289.9 379.6,299.7 380.4,297.1 381.2,283.4 382.0,281.8 382.8,294.4 383.6,272.0 384.4,284.0 385.2,284.6 386.0,277.2 386.8,277.8 387.6,289.4 388.4,271.2 389.2,277.3 390.0,279.3 390.8,285.4 391.6,272.0 392.4,293.5 393.2,280.7 394.0,280.7 394.8,279.4 395.6,276.2 396.4,273.1 397.2,291.5 398.0,282.4 398.8,278.9 399.6,288.0 400.4,272.1 401.2,283.3 402.0,277.1 402.8,268.3 403.6,282.2 404.4,261.5 405.2,279.8 406.0,265.5 406.8,276.2 407.6,284.3 408.4,276.7 409.2,265.9 410.0,270.6 410.8,267.2 411.6,259.7 412.4,259.8 413.2,269.6 414.0,273.6 414.8,252.8 415.6,267.4 416.4,272.1 417.2,268.2 418.0,258.2 418.8,276.0 419.6,255.9 420.4,272.2 421.2,280.6 422.0,248.8 422.8,269.7 423.6,270.7 424.4,270.4 425.2,262.1 426.0,266.6 426.8,257.5 427.6,271.6 428.4,275.7 429.2,271.9 430.0,263.7 430.8,268.2 431.6,272.9 432.4,274.2 433.2,273.6 434.0,276.0 434.8,264.6 435.6,253.0 436.4,283.4 437.2,291.4 438.0,267.2 438.8,274.7 439.6,284.1 440.4,290.7 441.2,288.9 442.0,295.3 442.8,284.4 443.6,289.4 444.4,289.8 445.2,282.8 446.0,297.7 446.8,293.0 447.6,296.6 448.4,285.0 449.2,297.9 450.0,280.0 450.8,293.2 451.6,267.1 452.4,281.7 453.2,297.6 454.0,287.6 454.8,293.5 455.6,278.0 456.4,306.1 457.2,298.0 458.0,292.7 458.8,296.8 459.6,296.3 460.4,306.1 461.2,295.7 462.0,281.0 462.8,292.0 463.6,305.8 464.4,299.7 465.2,291.2 466.0,300.5 466.8,296.4 467.6,301.0 468.4,281.9 469.2,288.2 470.0,302.3 470.8,294.7 471.6,300.0 472.4,314.4 473.2,294.7 474.0,299.8 474.8,293.0 475.6,292.7 476.4,297.8 477.2,285.9 478.0,280.4 478.8,311.2 479.6,298.6 480.4,309.4 481.2,300.6 482.0,300.7 482.8,305.2 483.6,305.5 484.4,288.5 485.2,309.7 486.0,277.6 486.8,300.7 487.6,321.3 488.4,299.4 489.2,313.3 490.0,295.5 490.8,302.4 491.6,298.8 492.4,302.0 493.2,290.7 494.0,290.0 494.8,301.1 495.6,284.4 496.4,290.7 497.2,303.8 498.0,292.7 498.8,290.3 499.6,288.4 500.4,299.4 501.2,294.9 502.0,306.1 502.8,296.5 503.6,314.4 504.4,294.3 505.2,280.9 506.0,299.1 506.8,298.1 507.6,299.5 508.4,284.1 509.2,308.3 510.0,298.3 510.8,298.3 511.6,285.0 512.4,303.2 513.2,302.2 514.0,311.3 514.8,295.9 515.6,288.9 516.4,301.0 517.2,292.1 518.0,303.9 518.8,290.9 519.6,299.5 520.4,298.8 521.2,300.6 522.0,296.6 522.8,294.0 523.6,300.6 524.4,296.0 525.2,302.5 526.0,298.7 526.8,281.5 527.6,300.6 528.4,313.3 529.2,303.8 530.0,306.4" stroke="#b064ee" />
</g></g>
<g><line x1="305.5" y1="38.4" x2="348.8" y2="38.4" stroke="#a6a6a6" stroke-width="1.5"/><text x="355" y="44.3" class="lg">bare fused silica</text><line x1="305.5" y1="62.0" x2="348.8" y2="62.0" stroke="#eeaabb" stroke-width="1.5"/><text x="355" y="67.5" class="lg">198nm ALD SiO<tspan dy="5" dx="0.8" class="sb">2</tspan></text><line x1="305.5" y1="89.0" x2="348.8" y2="89.0" stroke="#9ea6da" stroke-width="1.5"/><text x="355" y="94.8" class="lg">388nm ALD SiO<tspan dy="5" dx="0.8" class="sb">2</tspan></text><line x1="305.5" y1="116.9" x2="348.8" y2="116.9" stroke="#a4c2c4" stroke-width="1.5"/><text x="355" y="122.2" class="lg">595nm ALD SiO<tspan dy="5" dx="0.8" class="sb">2</tspan></text><line x1="305.5" y1="144.3" x2="348.8" y2="144.3" stroke="#b4b2dc" stroke-width="1.5"/><text x="355" y="150.0" class="lg">692nm ALD SiO<tspan dy="5" dx="0.8" class="sb">2</tspan></text></g>
<rect x="75" y="5" width="454" height="366" fill="none" stroke="#1a1a1a" stroke-width="1.8"/>
<g stroke="#1a1a1a" stroke-width="1.6"><line x1="75.00" y1="371" x2="75.00" y2="364"/><line x1="131.75" y1="371" x2="131.75" y2="367.5"/><line x1="188.50" y1="371" x2="188.50" y2="364"/><line x1="245.25" y1="371" x2="245.25" y2="367.5"/><line x1="302.00" y1="371" x2="302.00" y2="364"/><line x1="358.75" y1="371" x2="358.75" y2="367.5"/><line x1="415.50" y1="371" x2="415.50" y2="364"/><line x1="472.25" y1="371" x2="472.25" y2="367.5"/><line x1="529.00" y1="371" x2="529.00" y2="364"/><line x1="75" y1="340.50" x2="82" y2="340.50"/><line x1="75" y1="310.00" x2="78.5" y2="310.00"/><line x1="75" y1="279.50" x2="82" y2="279.50"/><line x1="75" y1="249.00" x2="78.5" y2="249.00"/><line x1="75" y1="218.50" x2="82" y2="218.50"/><line x1="75" y1="188.00" x2="78.5" y2="188.00"/><line x1="75" y1="157.50" x2="82" y2="157.50"/><line x1="75" y1="127.00" x2="78.5" y2="127.00"/><line x1="75" y1="96.50" x2="82" y2="96.50"/><line x1="75" y1="66.00" x2="78.5" y2="66.00"/><line x1="75" y1="35.50" x2="82" y2="35.50"/></g>
<g class="tk"><text x="75.30" y="392" text-anchor="middle">200</text><text x="188.80" y="392" text-anchor="middle">400</text><text x="302.30" y="392" text-anchor="middle">600</text><text x="415.80" y="392" text-anchor="middle">800</text><text x="529.30" y="392" text-anchor="middle">1000</text><text x="67.2" y="345.50" text-anchor="end">0</text><text x="67.2" y="284.50" text-anchor="end">20</text><text x="67.2" y="223.50" text-anchor="end">40</text><text x="67.2" y="162.50" text-anchor="end">60</text><text x="67.2" y="101.50" text-anchor="end">80</text><text x="67.2" y="40.50" text-anchor="end">100</text></g>
<!-- annotations -->
<text x="194.5" y="30.8" style="font-size:18px">ω<tspan dy="4" dx="1.3" style="font-size:12.5px">1</tspan></text>
<text x="233" y="31.5" style="font-size:18px">D<tspan dy="5" style="font-size:12px">1</tspan></text>
<text x="295" y="211" style="font-size:18px">D<tspan dy="6" dx="0.8" style="font-size:12.5px">2</tspan></text>
<g stroke="#111" stroke-width="1.2" fill="#111">
<line x1="204" y1="34" x2="204" y2="46"/><path d="M201.4,42 L206.6,42 L204,52.3 Z" stroke="none"/>
<line x1="242.7" y1="42" x2="242.7" y2="52"/><path d="M240.2,49.4 L245.2,49.4 L242.7,58 Z" stroke="none"/>
<line x1="303.5" y1="217.5" x2="303.5" y2="229"/><path d="M301,226 L306,226 L303.5,235 Z" stroke="none"/>
</g>
<text x="19.6" y="175.3" transform="rotate(-90 19.6 175.3)" text-anchor="middle" style="font-size:19px">Intensity (a.u.)</text>
<text x="214" y="422.9" style="font-size:19px;letter-spacing:0.1px">Wave number (cm<tspan dy="-6.7" dx="0.8" style="font-size:12.5px">−1</tspan><tspan dy="6.7" dx="0.8">)</tspan></text>
</svg>
</body></html>
